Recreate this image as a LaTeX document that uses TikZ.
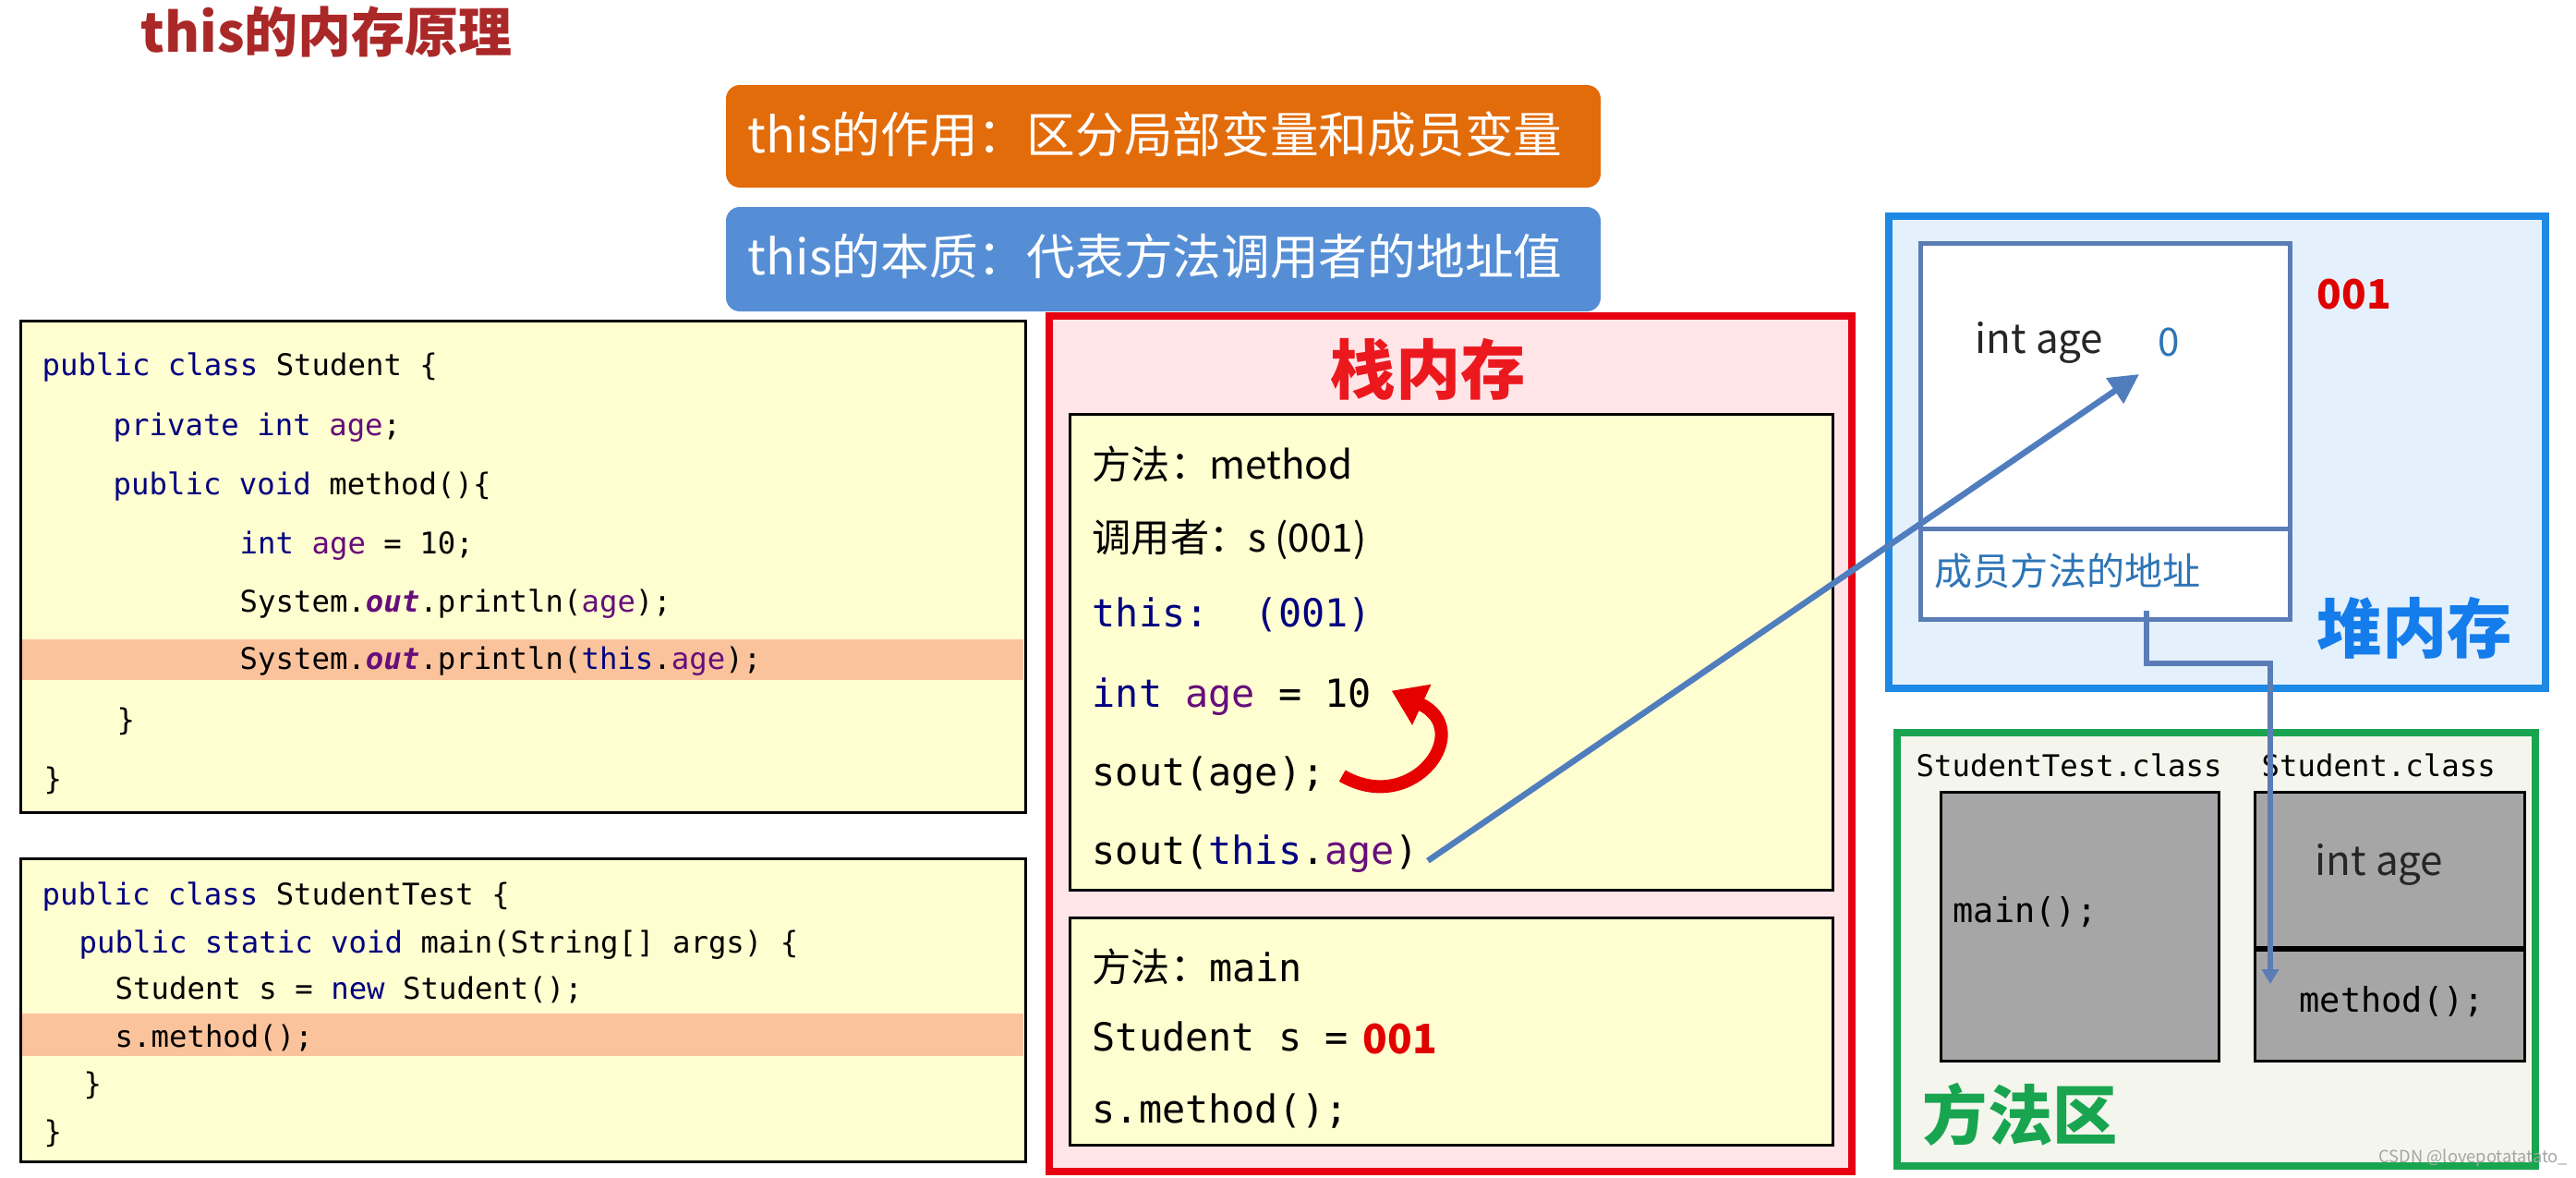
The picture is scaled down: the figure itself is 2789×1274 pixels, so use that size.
\documentclass[tikz,border=0pt]{standalone}
\usepackage{fontspec}
\setmainfont{Noto Sans CJK SC}
\setmonofont{DejaVu Sans Mono}
\usetikzlibrary{arrows.meta,calc}

\definecolor{titlered}{RGB}{170,40,40}
\definecolor{bannerorange}{RGB}{226,107,10}
\definecolor{bannerblue}{RGB}{85,142,213}
\definecolor{codeyellow}{RGB}{255,254,208}
\definecolor{hlsalmon}{RGB}{250,195,155}
\definecolor{kwnavy}{RGB}{0,0,128}
\definecolor{fieldpurple}{RGB}{102,14,122}
\definecolor{stackred}{RGB}{230,0,18}
\definecolor{stackpink}{RGB}{255,228,232}
\definecolor{stacktitle}{RGB}{235,25,30}
\definecolor{heapblue}{RGB}{30,136,229}
\definecolor{heapfill}{RGB}{228,240,252}
\definecolor{heaptitle}{RGB}{20,125,235}
\definecolor{objblue}{RGB}{90,125,182}
\definecolor{addrblue}{RGB}{46,117,182}
\definecolor{methgreen}{RGB}{25,165,80}
\definecolor{methfill}{RGB}{244,246,238}
\definecolor{boxgray}{RGB}{166,166,166}
\definecolor{arrowblue}{RGB}{80,125,190}
\definecolor{arrowred}{RGB}{230,0,0}
\definecolor{numred}{RGB}{224,0,0}
\definecolor{wmgray}{RGB}{165,165,165}

\newcommand\kw[1]{\textcolor{kwnavy}{#1}}
\newcommand\fld[1]{\textcolor{fieldpurple}{#1}}
\newcommand\outfld{\textcolor{fieldpurple}{\textbf{\textit{out}}}}

\tikzset{
  txt/.style={inner sep=0pt, anchor=base west},
  codeA/.style={txt, font=\ttfamily\fontsize{9.2}{11}\selectfont},
  codeB/.style={txt, font=\ttfamily\fontsize{11.9}{14}\selectfont},
  codeC/.style={txt, font=\ttfamily\fontsize{10.5}{12}\selectfont},
  sansB/.style={txt, font=\fontsize{12}{14}\selectfont},
  sansH/.style={txt, font=\fontsize{12.5}{14}\selectfont},
  bigtitle/.style={txt, font=\bfseries\fontsize{20}{24}\selectfont},
  banner/.style={rounded corners=1.5mm, draw=none},
  bannertext/.style={txt, text=white, font=\fontsize{15}{18}\selectfont},
  codebox/.style={fill=codeyellow, draw=black, line width=0.3mm},
  hlrow/.style={fill=hlsalmon, draw=none},
  graybox/.style={fill=boxgray, draw=black, line width=0.3mm},
}

\begin{document}
\begin{tikzpicture}[x=0.1mm, y=-0.1mm]
\useasboundingbox (0,0) rectangle (2789,1274);
\fill[white] (0,0) rectangle (2789,1274);

% title
\node[txt, text=titlered, font=\bfseries\fontsize{16.5}{20}\selectfont] (title) at (152,56) {this的内存原理};

% banners
\fill[banner, bannerorange] (786,92) rectangle (1733,203);
\node[bannertext] (role) at (809,165) {this的作用：区分局部变量和成员变量};
\fill[banner, bannerblue] (786,224) rectangle (1733,337);
\node[bannertext] (essence) at (809,297) {this的本质：代表方法调用者的地址值};

% code box 1
\draw[codebox] (22,347) rectangle (1110,879);
\fill[hlrow] (24,692) rectangle (1108,736);
\node[codeA] (c1a) at (45,406) {\kw{public class} Student \{};
\node[codeA] (c1b) at (122,471) {\kw{private int} \fld{age};};
\node[codeA] (c1c) at (122,535) {\kw{public void} method()\{};
\node[codeA] (c1d) at (259,599) {\kw{int} \fld{age} = 10;};
\node[codeA] (c1e) at (259,662) {System.\outfld.println(\fld{age});};
\node[codeA] (c1f) at (259,724) {System.\outfld.println(\kw{this}.\fld{age});};
\node[codeA] (c1g) at (126,790) {\}};
\node[codeA] (c1h) at (47,854) {\}};

% code box 2
\draw[codebox] (22,929) rectangle (1110,1257);
\fill[hlrow] (24,1097) rectangle (1108,1143);
\node[codeA] (c2a) at (45,979) {\kw{public class} StudentTest \{};
\node[codeA] (c2b) at (85,1031) {\kw{public static void} main(String[] args) \{};
\node[codeA] (c2c) at (124,1081) {Student s = \kw{new} Student();};
\node[codeA] (c2d) at (124,1133) {s.method();};
\node[codeA] (c2e) at (90,1184) {\}};
\node[codeA] (c2f) at (47,1236) {\}};

% stack memory
\draw[fill=stackpink, draw=stackred, line width=0.8mm] (1136,342) rectangle (2005,1268);
\node[bigtitle, text=stacktitle] (stacklbl) at (1440,426) {栈内存};
\draw[codebox] (1158,448) rectangle (1984,963);
\node[sansB] (m1) at (1182,518) {方法：method};
\node[sansB] (m2) at (1182,597) {调用者：s (001)};
\node[codeB, text=kwnavy] (m3) at (1182,678) {this:~~(001)};
\node[codeB] (tenl) at (1182,765) {\kw{int} \fld{age} = 10};
\node[codeB] (sage) at (1182,850) {sout(age);};
\node[codeB] (thisage) at (1182,935) {sout(\kw{this}.\fld{age})};

\draw[codebox] (1158,993) rectangle (1984,1239);
\node[sansB] (n1) at (1182,1062) {方法：{\ttfamily\fontsize{11.9}{14}\selectfont main}};
\node[codeB] (n2) at (1182,1137) {Student s =};
\node[txt, text=numred, font=\bfseries\fontsize{12.5}{14}\selectfont] (n2v) at (1475,1140) {001};
\node[codeB] (n3) at (1182,1215) {s.method();};

% heap memory
\draw[fill=heapfill, draw=heapblue, line width=0.8mm] (2045,234) rectangle (2756,745);
\draw[fill=white, draw=objblue, line width=0.5mm] (2079,263) rectangle (2479,670);
\draw[draw=objblue, line width=0.5mm] (2079,572) -- (2479,572);
\node[sansH, text=black!85] (hage) at (2138,382) {int age};
\node[txt, text=addrblue, font=\fontsize{12}{14}\selectfont] (zero) at (2336,385) {0};
\node[txt, text=numred, font=\bfseries\fontsize{12.5}{14}\selectfont] (addr) at (2508,334) {001};
\node[txt, text=addrblue, font=\fontsize{11.7}{14}\selectfont] (maddr) at (2094,633) {成员方法的地址};
\node[bigtitle, text=heaptitle] (heaplbl) at (2508,706) {堆内存};

% method area
\draw[fill=methfill, draw=methgreen, line width=0.8mm] (2054,793) rectangle (2745,1262);
\node[codeA] (stc) at (2074,840) {StudentTest.class};
\node[codeA] (sc) at (2448,840) {Student.class};
\draw[graybox] (2101,857) rectangle (2402,1148);
\node[codeC] (mainm) at (2114,998) {main();};
\draw[graybox] (2441,857) rectangle (2733,1148);
\draw[black, line width=0.6mm] (2441,1027) -- (2733,1027);
\node[sansH, text=black!85] (cage) at (2506,947) {int age};
\node[codeC] (methm) at (2489,1095) {method();};
\node[bigtitle, text=methgreen] (methlbl) at (2081,1233) {方法区};

\node[txt, text=wmgray, font=\fontsize{5.2}{6}\selectfont] (wm) at (2575,1258) {CSDN @lovepotatatato\_};

% connectors
\draw[arrowred, line width=1.4mm, -{Triangle[length=3.6mm, width=4.6mm]}]
  ($(sage.east)+(18,1)$) .. controls (1530,884) and (1598,790) .. ($(tenl.east)+(21,-6)$);

\coordinate (ztip) at (2316,405);
\draw[arrowblue, line width=0.65mm, -{Triangle[length=3.2mm, width=3.2mm]}]
  ($(thisage.east)+(10,8)$) -- (ztip);

\coordinate (addrsrc) at (2324,661);
\coordinate (mtgt) at (2458,1065);
\draw[objblue, line width=0.55mm, -{Triangle[length=1.6mm, width=1.8mm]}]
  (addrsrc) -- (2324,718) -| (mtgt);
\end{tikzpicture}
\end{document}
